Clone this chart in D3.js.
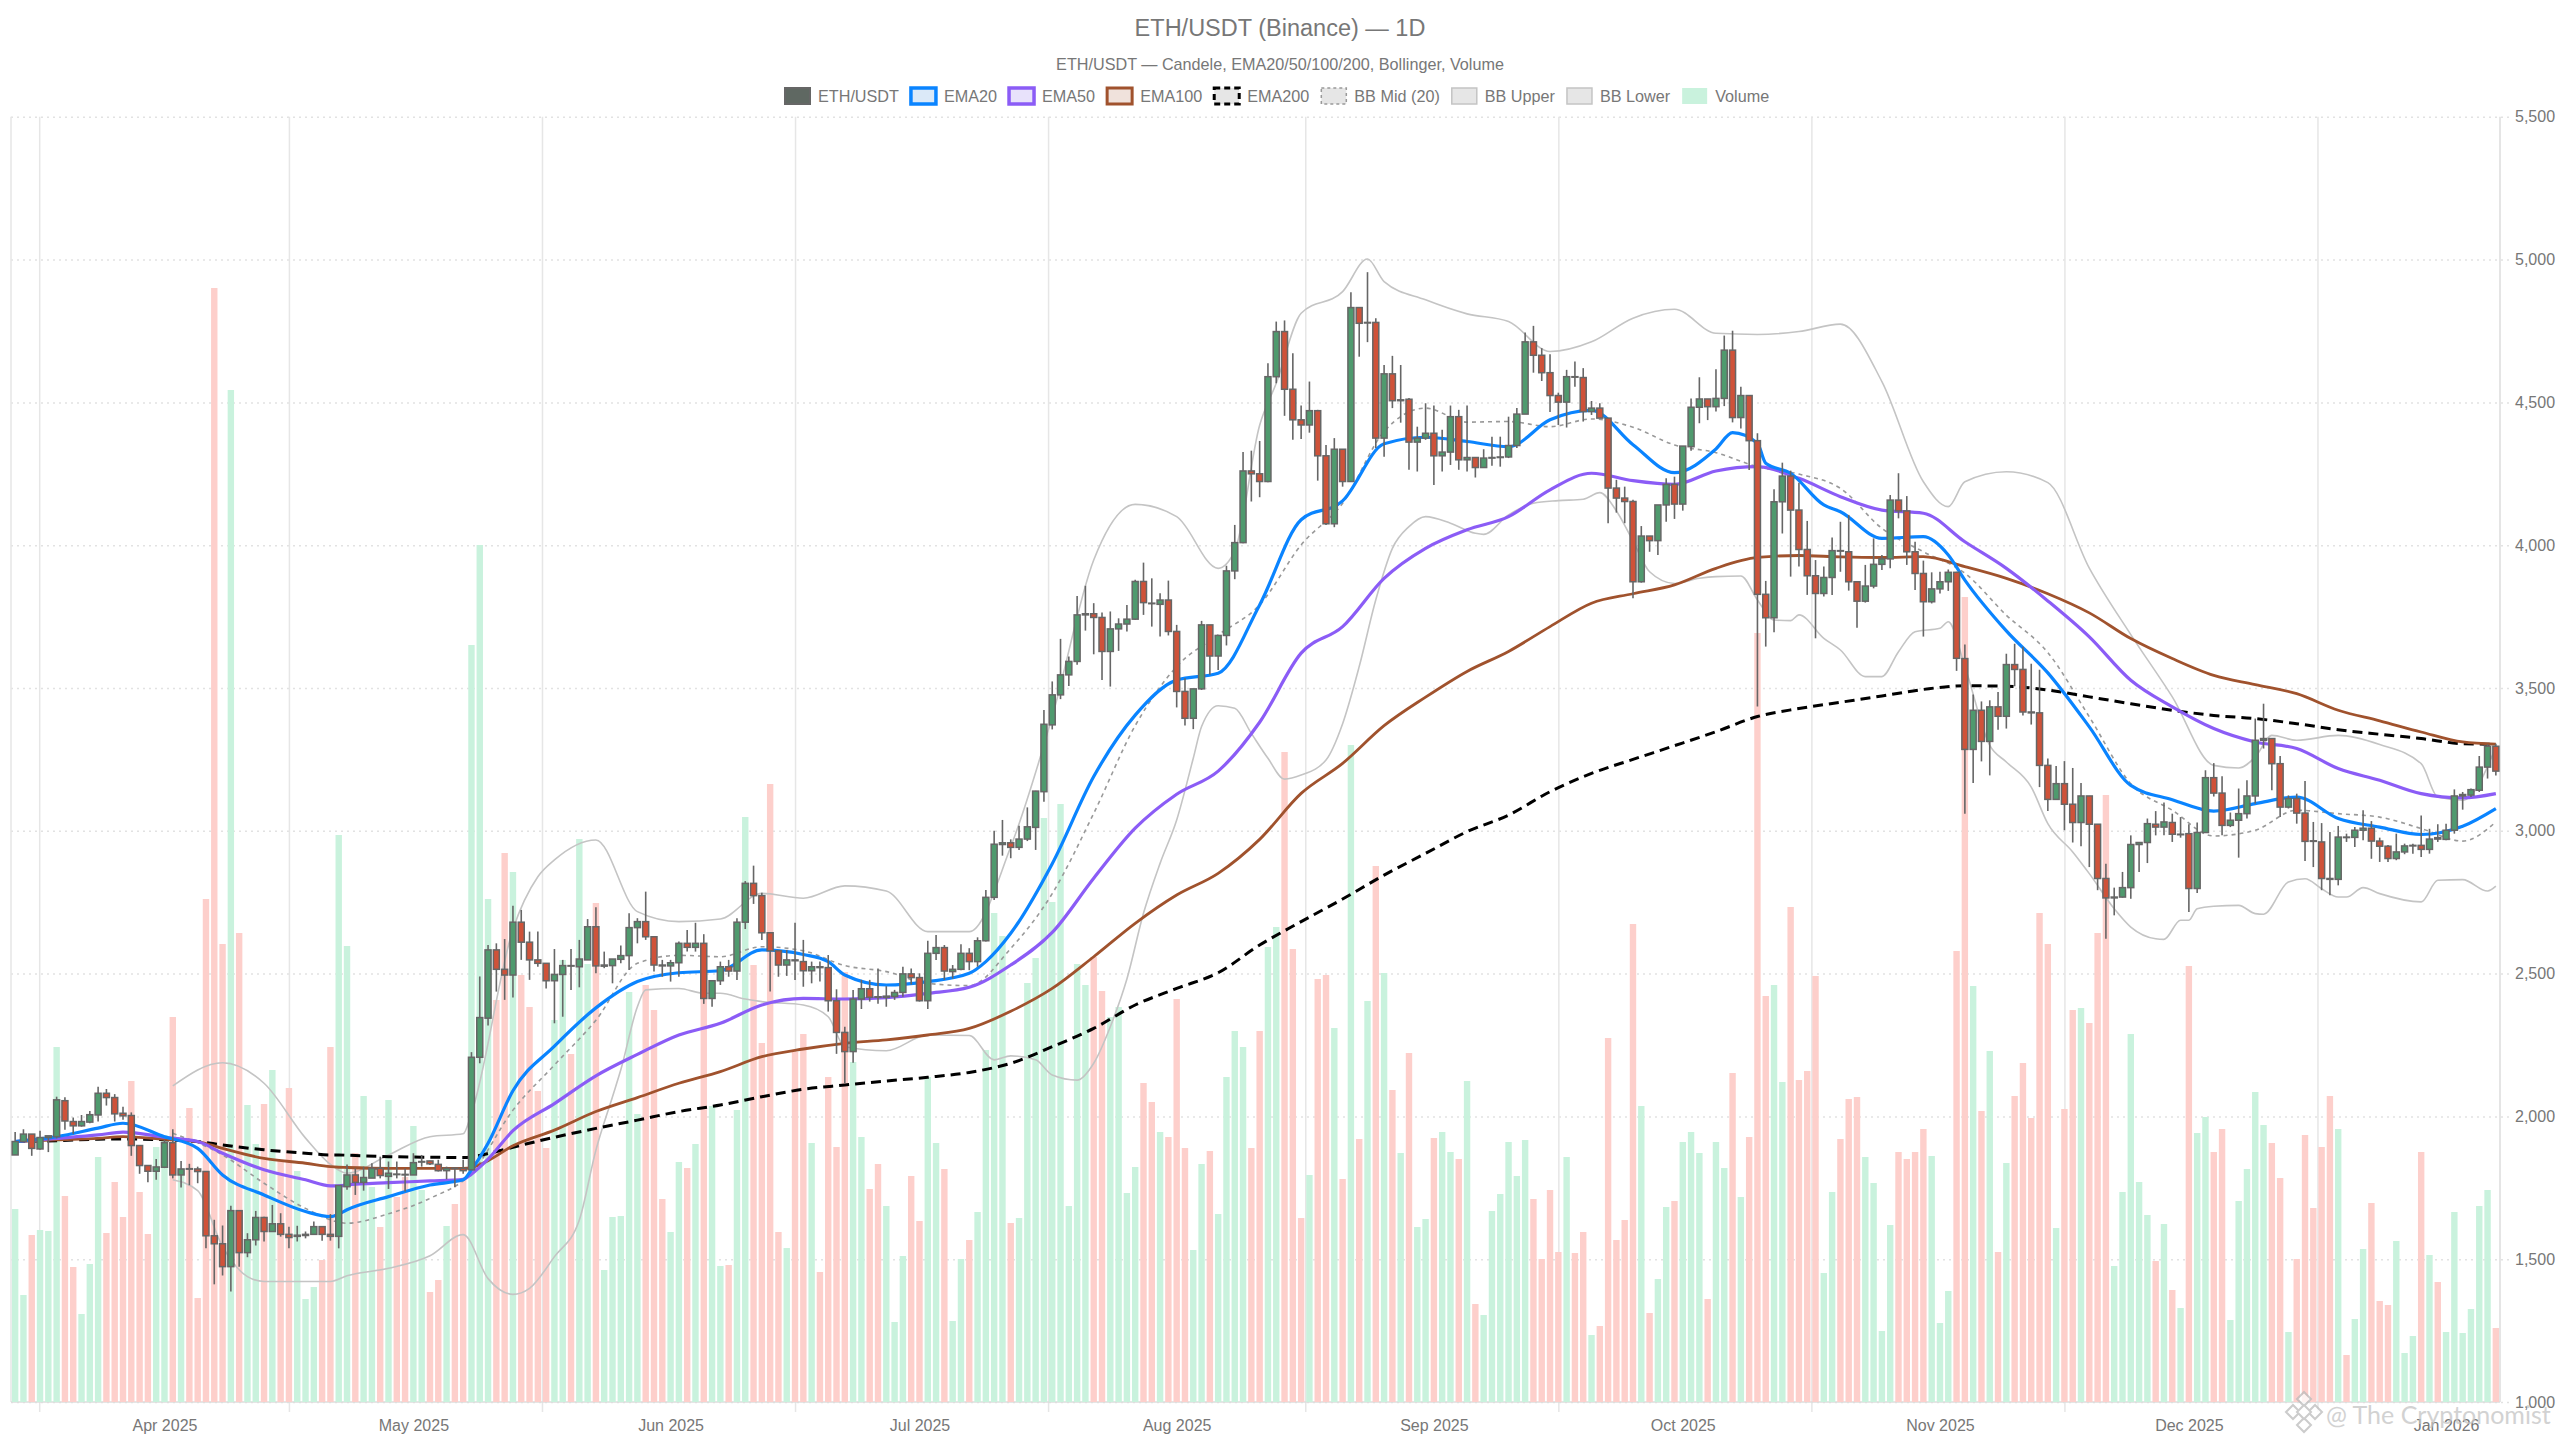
<!DOCTYPE html>
<html>
<head>
<meta charset="UTF-8">
<title>ETH/USDT (Binance) — 1D</title>
<script src="https://cdn.jsdelivr.net/npm/d3@7"></script>
<style>
    html, body { margin: 0; padding: 0; background: #fff; }
    text { font-family: "Liberation Sans", Arial, sans-serif; }
</style>
</head>
<body>
<svg id="chart" width="2560" height="1440"></svg>
<script>
// daily candles, Mar 14 2025 to Jan 7 2026
var opens = [
1865,1912,1938,1886,1926,1929,2055,1982,1967,1980,
2005,2081,2066,2011,2003,1898,1828,1808,1822,1908,
1795,1817,1816,1807,1582,1554,1474,1670,1523,1568,
1646,1597,1624,1587,1580,1583,1587,1614,1587,1580,
1754,1795,1769,1784,1818,1790,1798,1797,1795,1840,
1844,1832,1810,1819,1818,1813,2207,2344,2583,2515,
2495,2680,2610,2548,2536,2475,2497,2528,2524,2548,
2664,2526,2528,2550,2563,2661,2682,2629,2530,2527,
2538,2606,2592,2606,2413,2475,2524,2509,2680,2816,
2773,2643,2580,2530,2548,2542,2510,2524,2521,2405,
2294,2227,2411,2447,2419,2417,2420,2434,2499,2486,
2405,2571,2591,2507,2515,2571,2542,2615,2767,2952,
2958,2942,2971,3012,3137,3371,3476,3546,3593,3756,
3760,3747,3628,3707,3724,3741,3873,3797,3793,3808,
3698,3488,3394,3497,3721,3612,3684,3910,4009,4260,
4250,4223,4590,4748,4546,4439,4421,4471,4313,4075,
4336,4223,4832,4778,4780,4375,4600,4506,4511,4361,
4375,4392,4313,4326,4450,4299,4307,4272,4305,4307,
4309,4349,4459,4712,4665,4604,4524,4501,4590,4587,
4468,4480,4445,4200,4165,4153,3872,4032,4016,4141,
4213,4144,4345,4483,4512,4485,4514,4683,4447,4524,
4366,3828,3746,4152,4242,4123,3985,3893,3831,3887,
3981,3977,3872,3804,3857,3933,3952,4158,4120,3977,
3901,3802,3847,3872,3905,3603,3285,3422,3313,3434,
3401,3582,3565,3416,3413,3229,3110,3165,3093,3029,
3122,3023,2833,2765,2768,2801,2952,2959,3023,3013,
3029,2987,2990,2798,2994,3186,3132,3019,3037,3060,
3122,3317,3323,3235,3083,3113,3062,2965,2961,2833,
2830,2978,2977,3002,3009,2964,2946,2903,2926,2947,
2949,2935,2976,2970,3002,3122,3125,3142,3223,3296];

var closes = [
1912,1938,1888,1926,1932,2058,1984,1967,1982,2006,
2081,2066,2009,2002,1898,1828,1808,1823,1908,1795,
1816,1816,1807,1582,1554,1474,1670,1523,1568,1646,
1597,1624,1587,1576,1584,1587,1614,1587,1580,1758,
1795,1769,1786,1818,1793,1801,1797,1795,1838,1842,
1834,1810,1818,1818,1810,2207,2346,2583,2515,2495,
2680,2610,2548,2536,2475,2497,2528,2527,2551,2664,
2527,2530,2551,2563,2661,2682,2629,2530,2527,2538,
2606,2592,2606,2413,2475,2524,2509,2680,2816,2773,
2643,2580,2530,2548,2545,2510,2524,2521,2405,2294,
2227,2411,2447,2417,2417,2421,2434,2499,2486,2405,
2571,2591,2509,2515,2571,2542,2615,2767,2953,2958,
2942,2971,3014,3139,3373,3476,3546,3593,3756,3760,
3747,3628,3707,3724,3741,3873,3799,3796,3808,3698,
3488,3394,3497,3721,3612,3684,3910,4009,4260,4250,
4223,4590,4748,4546,4439,4421,4471,4313,4075,4336,
4223,4832,4777,4780,4375,4600,4506,4509,4361,4375,
4392,4313,4326,4450,4299,4307,4272,4305,4307,4309,
4349,4459,4712,4665,4604,4524,4501,4590,4589,4468,
4480,4445,4200,4165,4153,3872,4032,4016,4141,4213,
4144,4347,4483,4512,4485,4514,4683,4447,4524,4366,
3828,3746,4152,4242,4123,3985,3893,3831,3887,3981,
3980,3872,3804,3857,3933,3952,4158,4120,3977,3901,
3802,3847,3872,3905,3604,3285,3422,3313,3434,3401,
3582,3565,3416,3413,3229,3110,3165,3093,3029,3122,
3023,2833,2765,2768,2801,2952,2959,3025,3013,3031,
2988,2988,2798,2994,3186,3132,3019,3037,3060,3122,
3317,3323,3235,3083,3113,3062,2963,2963,2833,2830,
2978,2977,3002,3009,2964,2946,2903,2926,2947,2949,
2935,2971,2971,3002,3122,3127,3144,3223,3296,3209];

var highs = [
1945,1955,1938,1950,1932,2069,2067,1996,2005,2019,
2104,2096,2078,2034,2014,1898,1828,1851,1918,1955,
1844,1834,1824,1807,1638,1618,1687,1670,1591,1669,
1649,1690,1661,1614,1617,1597,1632,1614,1658,1760,
1832,1818,1824,1836,1859,1842,1842,1818,1871,1865,
1845,1848,1824,1820,1848,2225,2490,2600,2606,2621,
2738,2723,2647,2647,2536,2586,2548,2586,2618,2691,
2732,2577,2551,2598,2711,2694,2787,2629,2548,2548,
2612,2653,2678,2638,2475,2542,2548,2694,2824,2878,
2783,2643,2580,2583,2678,2618,2542,2542,2565,2445,
2314,2443,2478,2478,2518,2456,2443,2524,2518,2501,
2615,2635,2600,2530,2603,2589,2627,2793,3000,3038,
2970,3018,3082,3140,3423,3523,3672,3610,3822,3858,
3797,3764,3768,3744,3791,3879,3939,3884,3832,3876,
3721,3534,3497,3735,3721,3684,3928,4071,4326,4331,
4365,4637,4783,4787,4672,4489,4573,4474,4351,4375,
4336,4886,4832,4956,4795,4631,4663,4631,4515,4415,
4497,4489,4404,4489,4474,4489,4307,4336,4380,4380,
4450,4480,4745,4768,4690,4669,4534,4614,4643,4620,
4505,4497,4445,4229,4205,4159,4067,4032,4141,4234,
4240,4347,4514,4588,4512,4616,4734,4751,4555,4526,
4392,3875,4196,4289,4261,4219,4085,3948,3925,4027,
4082,4106,3872,3931,4024,3966,4176,4252,4172,4012,
3946,3905,3907,3915,3907,3652,3477,3453,3457,3486,
3620,3655,3644,3585,3564,3253,3227,3244,3220,3167,
3122,3023,2885,2801,2856,2984,2961,3043,3069,3099,
3060,3048,3023,3029,3212,3237,3191,3064,3148,3177,
3393,3445,3323,3262,3124,3130,3174,3031,3027,2996,
3017,2990,3013,3072,3034,2976,2950,2990,2955,2955,
3054,3007,3023,3025,3145,3136,3148,3262,3303,3305];

var lows = [
1865,1912,1862,1883,1875,1923,1953,1939,1964,1976,
1982,2038,1982,1988,1862,1799,1769,1778,1819,1783,
1751,1759,1766,1538,1412,1443,1387,1474,1507,1548,
1562,1597,1579,1538,1562,1573,1587,1565,1565,1538,
1743,1725,1740,1784,1783,1746,1783,1737,1795,1824,
1830,1807,1780,1752,1799,1813,2186,2318,2437,2408,
2416,2548,2478,2524,2448,2326,2349,2443,2452,2548,
2501,2519,2466,2536,2513,2606,2618,2507,2489,2472,
2489,2577,2577,2394,2384,2460,2489,2478,2656,2744,
2618,2437,2489,2492,2478,2454,2466,2472,2367,2219,
2116,2188,2376,2402,2394,2384,2408,2419,2462,2402,
2376,2548,2478,2483,2512,2512,2524,2612,2758,2913,
2904,2933,2964,2933,3102,3355,3461,3507,3581,3701,
3618,3528,3505,3630,3698,3738,3756,3715,3680,3684,
3432,3369,3356,3493,3546,3563,3649,3881,4007,4153,
4168,4220,4567,4453,4369,4372,4394,4226,4071,4063,
4205,4223,4660,4711,4340,4310,4480,4429,4264,4258,
4369,4211,4258,4281,4264,4258,4237,4272,4278,4275,
4305,4340,4459,4604,4575,4466,4421,4412,4555,4433,
4456,4445,4077,4114,4077,3814,3869,3977,3966,4082,
4092,4121,4331,4427,4438,4468,4487,4430,4409,4263,
3435,3645,3695,4041,3890,3925,3826,3674,3820,3826,
3907,3841,3711,3799,3849,3913,3919,4094,3931,3843,
3680,3796,3831,3840,3560,3060,3167,3243,3194,3354,
3358,3506,3404,3372,3153,3069,3110,3002,2959,2946,
2873,2792,2622,2704,2766,2762,2856,2887,2984,2984,
2961,2976,2716,2782,2994,3120,2984,3013,2906,3043,
3095,3288,3142,3048,3078,3025,2894,2873,2792,2774,
2809,2961,2943,2967,2902,2891,2891,2897,2918,2920,
2908,2920,2961,2967,2990,3074,3118,3136,3183,3194];

// volume has no axis in the picture, so the units are only relative
var volumes = [
193,107,167,172,171,355,206,135,88,138,
245,169,220,185,321,210,168,255,267,385,
230,294,104,503,1114,458,1012,469,297,258,
298,332,242,314,231,103,115,142,355,567,
456,249,306,215,175,302,205,225,276,212,
110,122,176,198,222,757,857,503,402,549,
530,427,395,311,254,382,442,348,563,438,
499,132,185,186,410,288,417,392,203,170,
240,234,258,409,296,136,137,292,585,437,
359,618,170,154,350,368,259,130,325,255,
430,340,265,213,238,196,80,146,226,181,
325,259,233,81,143,162,190,352,489,466,
179,184,419,444,584,500,598,196,438,417,
445,411,385,395,209,235,319,300,270,265,
403,254,152,238,251,188,325,371,355,254,
371,455,475,650,453,184,227,423,427,374,
223,657,263,401,536,429,312,249,349,175,
183,264,270,250,243,321,98,87,191,208,
260,226,262,203,143,212,150,245,149,170,
67,76,364,162,182,478,296,89,123,195,
201,260,270,249,103,260,234,329,205,265,
769,406,417,320,495,322,331,426,129,210,
263,303,305,245,219,71,177,250,243,250,
273,246,79,111,451,805,416,291,351,150,
239,306,339,284,489,458,174,293,392,394,
379,469,607,136,210,368,220,187,141,178,
112,94,436,269,285,250,273,82,201,233,
310,277,259,224,70,143,267,194,255,306,
273,47,83,153,199,101,97,161,49,66,
250,147,120,70,190,69,93,196,212,74];

// EMA lines, read at these bar numbers
var emaBars = [0,5,10,13,18,22,25,30,35,38,39,40,45,50,54,55,57,60,65,70,75,80,85,90,95,100,105,110,115,120,125,130,135,140,145,150,155,160,165,170,175,180,185,190,195,200,205,210,215,220,225,230,235,240,245,250,255,260,265,270,275,280,285,290,295,299];
var ema50 = [1912,1923,1935,1945,1927,1912,1871,1813,1778,1757,1757,1760,1768,1774,1780,1798,1850,1950,2045,2142,2217,2285,2326,2390,2413,2411,2416,2431,2452,2530,2644,2834,3009,3128,3209,3380,3622,3715,3884,3989,4054,4100,4194,4252,4226,4213,4260,4275,4234,4170,4123,4112,4012,3919,3805,3679,3527,3434,3358,3311,3288,3218,3177,3130,3115,3130];
var ema100 = [1912,1918,1923,1929,1920,1912,1888,1853,1836,1824,1822,1821,1818,1818,1818,1821,1845,1897,1952,2017,2066,2116,2157,2209,2236,2256,2268,2285,2308,2368,2448,2559,2676,2775,2851,2970,3131,3236,3368,3468,3558,3628,3715,3797,3830,3861,3919,3957,3964,3959,3957,3960,3925,3884,3830,3763,3673,3603,3544,3512,3480,3422,3385,3346,3311,3303];
var ema200 = [1912,1915,1920,1921,1918,1912,1900,1883,1871,1865,1865,1864,1859,1857,1856,1858,1870,1892,1927,1958,1987,2017,2040,2069,2095,2110,2124,2137,2154,2186,2244,2308,2390,2448,2503,2600,2682,2761,2845,2921,2997,3055,3137,3201,3250,3298,3347,3400,3428,3450,3472,3495,3508,3506,3493,3469,3445,3422,3404,3393,3375,3354,3338,3323,3305,3303];

// EMA20 turns faster, so it has a few more readings
var ema20Bars = [0,5,10,13,18,22,25,30,35,38,39,40,45,50,54,55,57,60,65,70,75,80,85,90,95,98,100,105,110,115,117,120,125,130,135,140,145,150,155,160,165,170,175,180,185,190,195,200,205,207,210,211,214,218,220,225,230,233,235,240,245,250,255,260,265,270,275,280,285,290,295,299];
var ema20 = [1912,1929,1959,1976,1929,1888,1795,1725,1667,1649,1658,1673,1719,1760,1778,1813,1906,2090,2246,2380,2472,2503,2510,2583,2567,2542,2495,2460,2472,2501,2542,2641,2885,3190,3405,3528,3552,3791,4089,4155,4355,4378,4363,4345,4439,4472,4352,4254,4337,4394,4357,4287,4252,4141,4117,4024,4030,3966,3878,3700,3553,3364,3159,3109,3069,3095,3118,3043,3013,2987,3016,3078];

// Bollinger bands
var midBars = [19,25,30,35,40,45,50,55,60,65,70,75,80,85,90,95,100,105,110,115,120,125,130,135,140,145,150,155,160,165,170,175,180,185,190,195,200,205,210,215,220,225,230,235,240,245,250,255,260,265,270,275,280,285,290,295,299];
var bbMid = [1941,1865,1766,1678,1626,1659,1713,1801,2022,2180,2337,2536,2564,2559,2594,2580,2528,2507,2466,2458,2588,2780,3061,3368,3575,3686,3791,4001,4147,4398,4480,4431,4433,4415,4442,4413,4351,4324,4275,4249,4199,4059,3977,3902,3755,3624,3399,3165,3072,2982,3002,3072,3060,3048,3008,2964,3031];

var upperBars = [19,25,30,35,38,40,45,50,54,55,60,63,65,70,75,80,85,90,95,100,105,110,115,120,125,130,135,140,145,147,150,152,155,160,163,165,170,175,180,185,190,195,200,205,210,215,220,225,230,233,235,240,245,250,255,260,265,268,270,272,275,280,285,290,292,295,299];
var bbUpper = [2107,2188,2116,1924,1832,1801,1865,1929,1939,2011,2655,2839,2898,2968,2717,2682,2691,2781,2764,2807,2789,2647,2647,2944,3400,3948,4143,4100,3919,3980,4420,4567,4812,4888,5002,4923,4859,4810,4783,4678,4712,4795,4826,4742,4738,4748,4774,4573,4222,4135,4222,4257,4219,3920,3687,3469,3229,3220,3258,3334,3317,3334,3302,3235,3118,3107,3293];

var lowerBars = [19,22,25,28,30,35,38,40,45,50,54,57,60,62,65,68,70,72,73,75,76,80,83,85,88,90,95,98,100,105,110,115,118,120,123,125,128,130,132,134,136,138,140,142,143,145,147,149,151,153,155,158,160,162,164,166,168,170,173,176,177,180,183,186,189,191,193,195,197,200,203,205,208,210,212,214,215,218,220,223,225,227,229,232,233,235,238,240,243,245,248,250,253,255,258,259,261,262,263,265,268,270,271,274,276,278,280,281,283,285,290,292,295,298,299];
var bbLower = [1778,1740,1544,1439,1422,1422,1422,1442,1468,1512,1586,1432,1377,1398,1509,1637,1882,2069,2163,2384,2443,2448,2431,2431,2411,2402,2390,2349,2244,2230,2285,2283,2198,2212,2198,2145,2127,2186,2314,2481,2711,2886,3038,3254,3365,3438,3429,3341,3254,3181,3195,3248,3375,3575,3809,3989,4065,4100,4077,4042,4038,4106,4147,4156,4161,4184,4120,4015,3907,3866,3884,3890,3892,3808,3738,3736,3756,3674,3633,3540,3540,3627,3697,3709,3732,3575,3299,3241,3153,3025,2926,2850,2727,2663,2622,2620,2687,2687,2727,2736,2739,2710,2708,2821,2832,2797,2768,2768,2801,2780,2751,2827,2829,2789,2806];

// axis labels
var monthBars = [18,48,79,109,140,171,201,232,262,293];
var monthLabels = ["Apr 2025","May 2025","Jun 2025","Jul 2025","Aug 2025","Sep 2025","Oct 2025","Nov 2025","Dec 2025","Jan 2026"];
var gridBars = [2.9,33,63.5,94,124.5,155.5,186,216.5,247,277.5];
var priceTicks = [1000,1500,2000,2500,3000,3500,4000,4500,5000,5500];

var legendNames = ["ETH/USDT","EMA20","EMA50","EMA100","EMA200","BB Mid (20)","BB Upper","BB Lower","Volume"];

var svg = d3.select("#chart");
var bars = d3.range(opens.length);

var plotLeft = 11, plotRight = 2500, plotTop = 116.8, plotBottom = 1402;
var x = d3.scaleLinear().domain([-0.5, bars.length - 0.5]).range([plotLeft, plotRight]);
var y = d3.scaleLinear().domain([1000, 5500]).range([plotBottom, plotTop]);
var yVol = d3.scaleLinear().domain([0, d3.max(volumes)]).range([plotBottom, 288]);

var isUp = function (i) { return closes[i] >= opens[i]; };

// titles
svg.append("text").attr("x", 1280).attr("y", 36).attr("text-anchor", "middle")
    .attr("font-size", 23.5).attr("fill", "#777").text("ETH/USDT (Binance) — 1D");
svg.append("text").attr("x", 1280).attr("y", 70).attr("text-anchor", "middle")
    .attr("font-size", 16.2).attr("fill", "#777").text("ETH/USDT — Candele, EMA20/50/100/200, Bollinger, Volume");

// legend
var legendStyle = [
    { fill: "#5f6862", stroke: "#666", w: 2, dash: null },
    { fill: "#dbe9f8", stroke: "#0a84ff", w: 3.5, dash: null },
    { fill: "#e8e2fb", stroke: "#8b5cf6", w: 3.5, dash: null },
    { fill: "#f0e2dc", stroke: "#a0522d", w: 3, dash: null },
    { fill: "#e6e6e6", stroke: "#000", w: 3, dash: "6,4" },
    { fill: "#e6e6e6", stroke: "#999", w: 1.5, dash: "3,3" },
    { fill: "#e6e6e6", stroke: "#c4c4c4", w: 1.5, dash: null },
    { fill: "#e6e6e6", stroke: "#c4c4c4", w: 1.5, dash: null },
    { fill: "#c9f2dd", stroke: "none", w: 0, dash: null }
];
var legendX = 785;
legendNames.forEach(function (name, i) {
    var s = legendStyle[i];
    svg.append("rect").attr("x", legendX).attr("y", 88).attr("width", 25).attr("height", 16)
        .attr("fill", s.fill).attr("stroke", s.stroke).attr("stroke-width", s.w).attr("stroke-dasharray", s.dash);
    var t = svg.append("text").attr("x", legendX + 33).attr("y", 101.5)
        .attr("font-size", 16.2).attr("fill", "#777").text(name);
    legendX += 33 + t.node().getComputedTextLength() + 12;
});

// grid, drawn with the axes
var yGrid = svg.append("g").attr("transform", "translate(" + plotLeft + ",0)")
    .call(d3.axisRight(y).tickValues(priceTicks).tickSize(plotRight + 10 - plotLeft).tickFormat(""));
yGrid.select(".domain").remove();
yGrid.selectAll("line").attr("stroke", "#e2e2e2").attr("stroke-width", 1.5).attr("stroke-dasharray", "2,4");

var xGrid = svg.append("g").attr("transform", "translate(0," + plotBottom + ")")
    .call(d3.axisBottom(x).tickValues(gridBars).tickSizeOuter(0).tickFormat(""));
xGrid.select(".domain").remove();
xGrid.selectAll("line").attr("stroke", "#e6e6e6").attr("stroke-width", 1.5)
    .attr("y1", 10).attr("y2", -(plotBottom - plotTop));

svg.append("line").attr("x1", plotLeft).attr("x2", plotLeft).attr("y1", plotTop).attr("y2", plotBottom).attr("stroke", "#e6e6e6").attr("stroke-width", 1.5);
svg.append("line").attr("x1", plotRight).attr("x2", plotRight).attr("y1", plotTop).attr("y2", plotBottom).attr("stroke", "#dcdcdc").attr("stroke-width", 1.5);
svg.append("line").attr("x1", plotLeft).attr("x2", plotRight).attr("y1", plotBottom).attr("y2", plotBottom).attr("stroke", "#dcdcdc").attr("stroke-width", 1.5);

// volume
svg.append("g").selectAll("rect").data(bars).enter().append("rect")
    .attr("x", function (i) { return x(i) - 3.2; })
    .attr("width", 6.4)
    .attr("y", function (i) { return yVol(volumes[i]); })
    .attr("height", function (i) { return plotBottom - yVol(volumes[i]); })
    .attr("fill", function (i) { return isUp(i) ? "#c9f2dd" : "#fdcfcb"; });

// lines
var drawLine = function (xs, ys, color, width, dash) {
    var line = d3.line()
        .x(function (d) { return x(d); })
        .y(function (d, i) { return y(ys[i]); })
        .curve(d3.curveMonotoneX);
    svg.append("path").attr("d", line(xs)).attr("fill", "none")
        .attr("stroke", color).attr("stroke-width", width).attr("stroke-dasharray", dash);
};
drawLine(upperBars, bbUpper, "#c4c4c4", 1.6, null);
drawLine(lowerBars, bbLower, "#c4c4c4", 1.6, null);
drawLine(midBars, bbMid, "#999", 1.6, "4,4");
drawLine(emaBars, ema200, "#000", 3, "10,6");
drawLine(emaBars, ema100, "#a0522d", 2.8, null);
drawLine(emaBars, ema50, "#8b5cf6", 3.2, null);
drawLine(ema20Bars, ema20, "#0a84ff", 3.2, null);

// candles
var candles = svg.append("g").selectAll("g").data(bars).enter().append("g");
candles.append("line")
    .attr("x1", function (i) { return x(i); })
    .attr("x2", function (i) { return x(i); })
    .attr("y1", function (i) { return y(highs[i]); })
    .attr("y2", function (i) { return y(lows[i]); })
    .attr("stroke", "#666").attr("stroke-width", 1.6);
candles.append("rect")
    .attr("x", function (i) { return x(i) - 3; })
    .attr("width", 6)
    .attr("y", function (i) { return y(Math.max(opens[i], closes[i])); })
    .attr("height", function (i) { return Math.max(0.5, Math.abs(y(opens[i]) - y(closes[i]))); })
    .attr("fill", function (i) { return isUp(i) ? "#4f9a6e" : "#cf5239"; })
    .attr("stroke", "#666").attr("stroke-width", 1.5);

// axis labels
var xAxis = svg.append("g").attr("transform", "translate(0," + plotBottom + ")")
    .call(d3.axisBottom(x).tickValues(monthBars).tickSize(0).tickPadding(18)
        .tickFormat(function (d, i) { return monthLabels[i]; }));
xAxis.select(".domain").remove();
xAxis.selectAll("text").attr("font-size", 16).attr("fill", "#777").attr("font-family", null);

var yAxis = svg.append("g").attr("transform", "translate(" + plotRight + ",0)")
    .call(d3.axisRight(y).tickValues(priceTicks).tickSize(0).tickPadding(15).tickFormat(d3.format(",")));
yAxis.select(".domain").remove();
yAxis.selectAll("text").attr("font-size", 16).attr("fill", "#777").attr("font-family", null);

// watermark
var mark = svg.append("g").attr("opacity", 0.75);
[[2304, 1399], [2293, 1412], [2315, 1412], [2304, 1425], [2304, 1412]].forEach(function (c) {
    mark.append("path").attr("d", "M0,-7L7,0L0,7L-7,0Z")
        .attr("transform", "translate(" + c[0] + "," + c[1] + ")")
        .attr("fill", "#fff").attr("stroke", "#bbb").attr("stroke-width", 2);
});
mark.append("text").attr("x", 2326).attr("y", 1424).attr("font-size", 25)
    .attr("fill", "#c4c4c4").style("font-family", "Lato").text("@ The Cryptonomist");
</script>
</body>
</html>
